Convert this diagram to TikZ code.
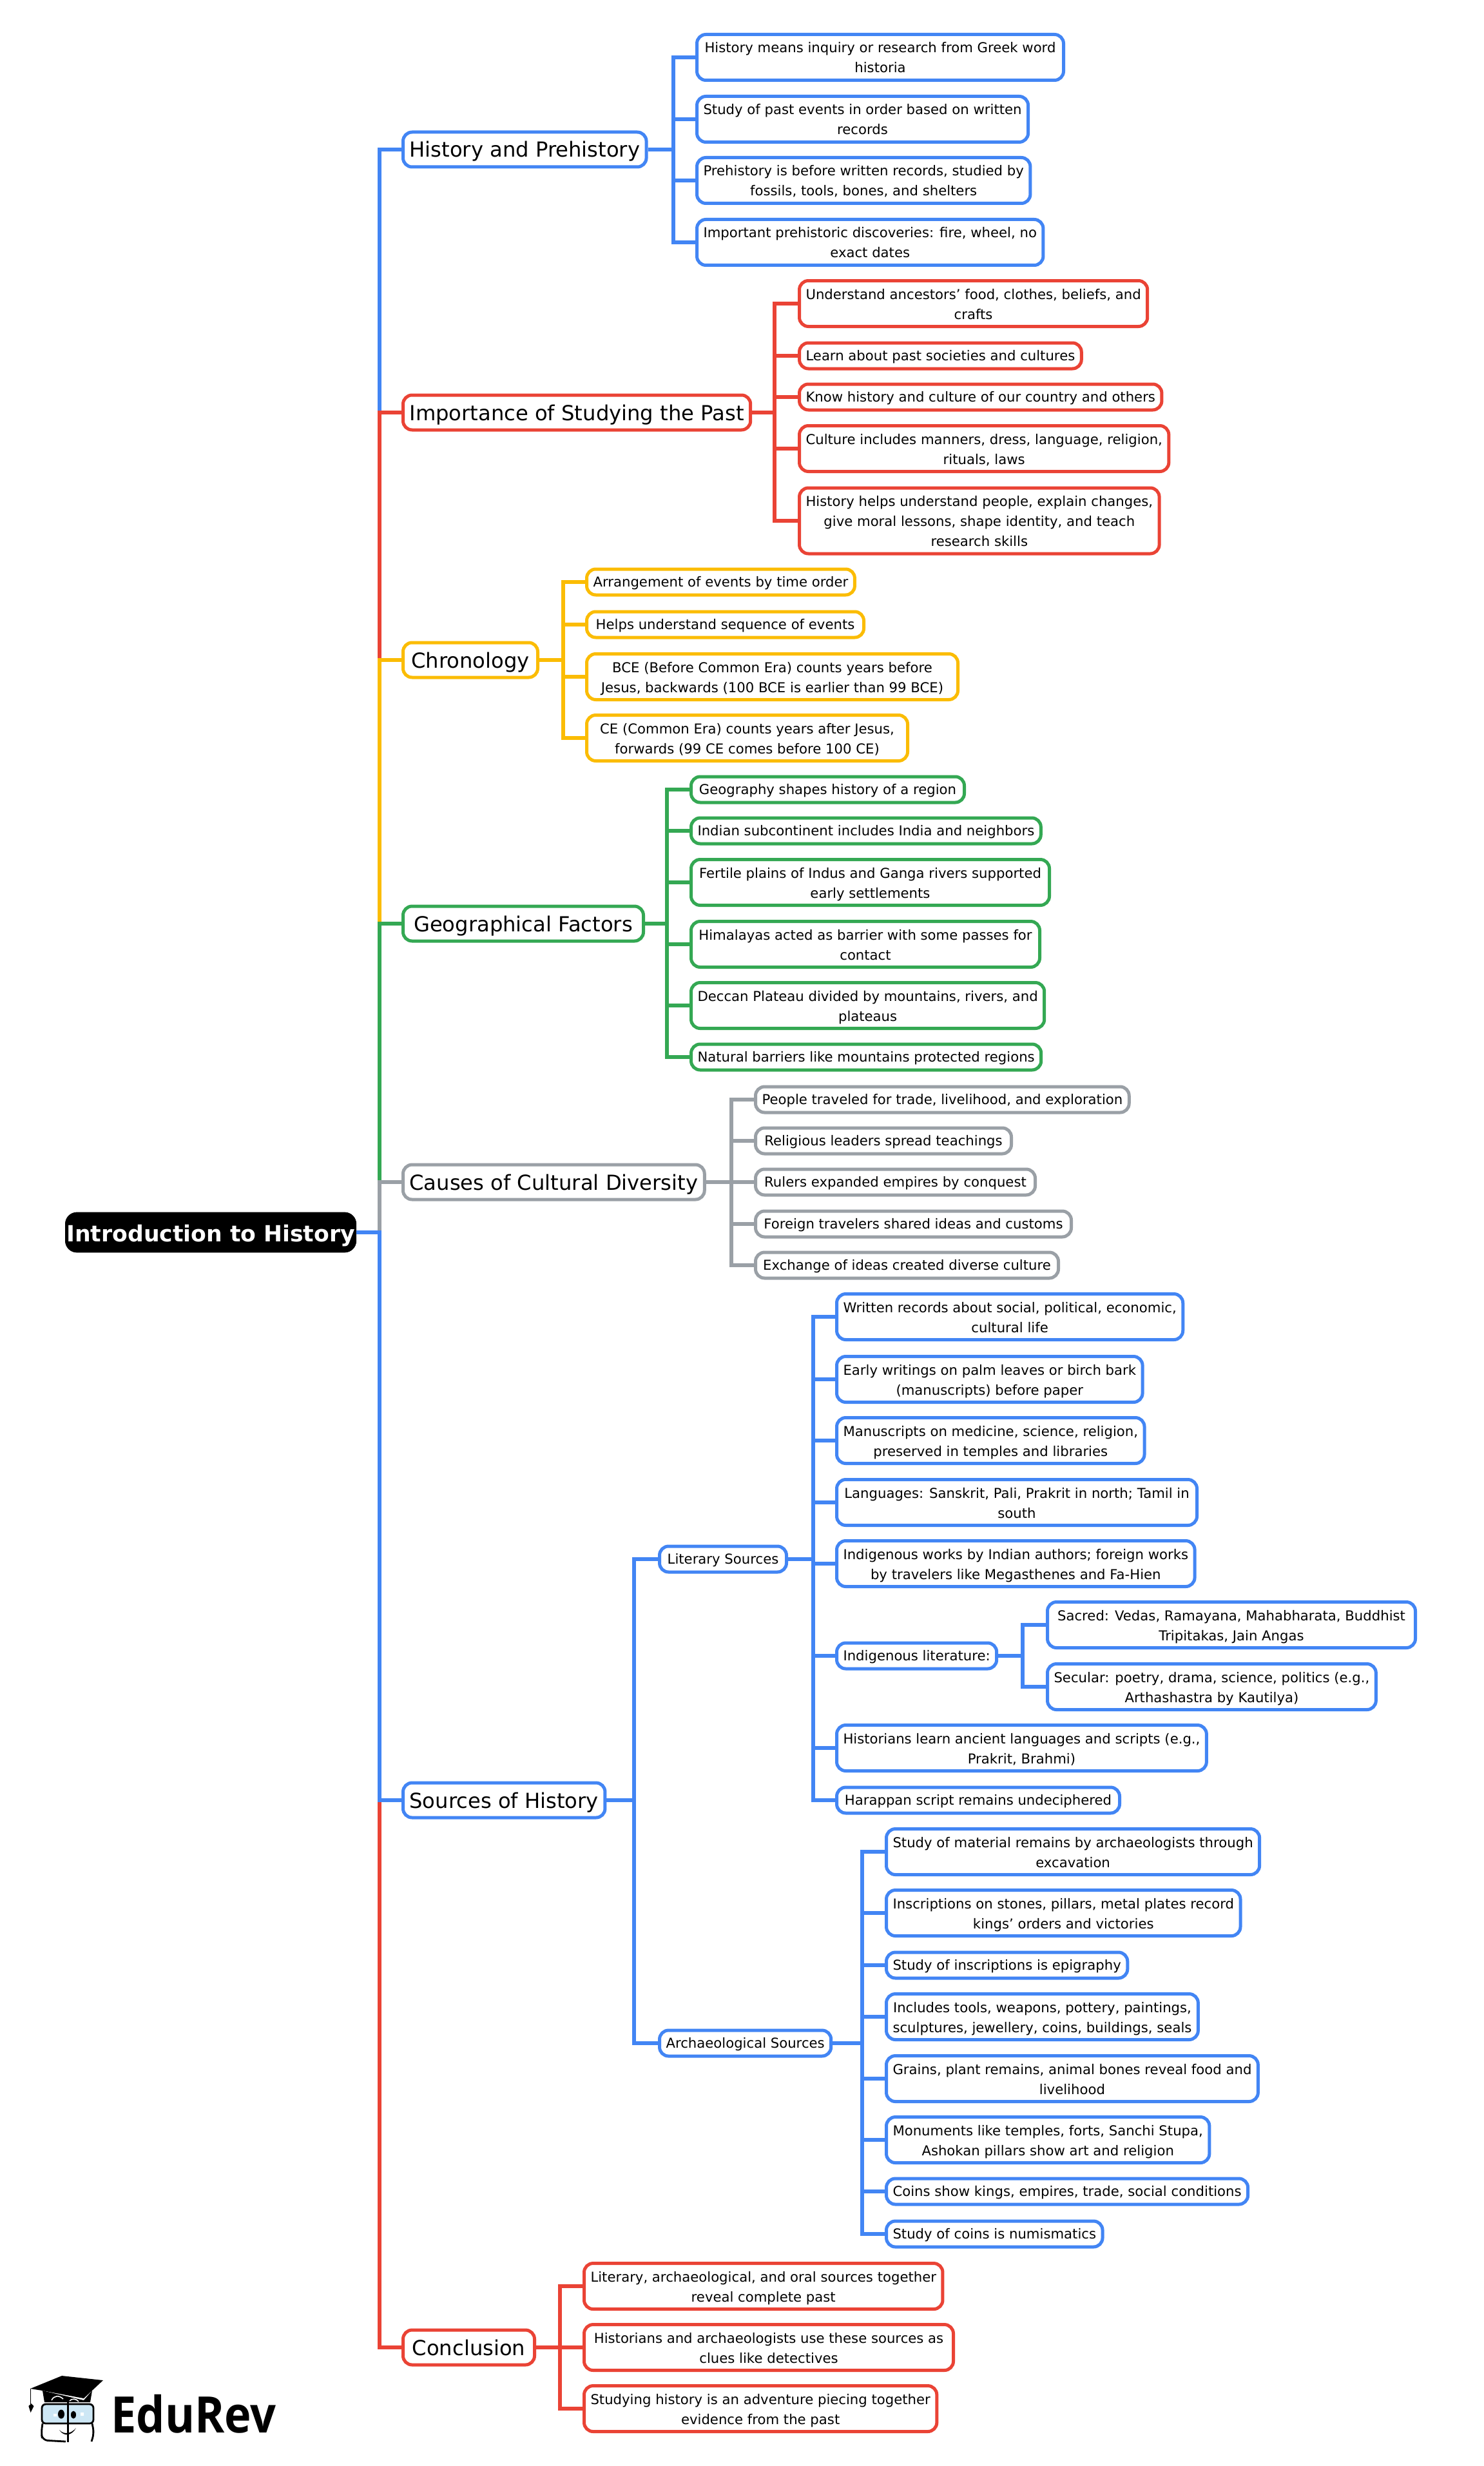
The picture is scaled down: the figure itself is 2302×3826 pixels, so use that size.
\documentclass[tikz,border=0pt]{standalone}
\usepackage{fontspec}
\setmainfont{DejaVu Sans}
\newfontfamily\logofont[FakeStretch=.9]{Open Sans}
\definecolor{gblue}{HTML}{4285F4}
\definecolor{gred}{HTML}{EA4335}
\definecolor{gyellow}{HTML}{FBBC04}
\definecolor{ggreen}{HTML}{34A853}
\definecolor{ggrey}{HTML}{9AA0A6}
\definecolor{glass}{HTML}{CDE7F5}
\tikzset{
  box/.style={draw=#1, fill=white, line width=2.5pt, rounded corners=7pt, anchor=west, align=center,
    inner xsep=5pt, inner ysep=0pt, xshift=-1pt},
  leaf/.style={box=#1, font=\fontsize{10.6}{15.5}\selectfont, minimum height=20pt,
    execute at begin node=\rule{0pt}{11.4pt}, execute at end node=\rule[-3.6pt]{0pt}{3.6pt}},
  two/.style={minimum height=35.5pt, execute at begin node=\rule{0pt}{27.6pt}},
  three/.style={minimum height=51pt, execute at begin node=\rule{0pt}{43.1pt}},
  major/.style={box=#1, font=\fontsize{16.1}{18}\selectfont, minimum height=27pt,
    execute at begin node=\rule{0pt}{16pt}, execute at end node=\rule[-4pt]{0pt}{4pt}},
  link/.style={draw=#1, line width=3pt},
}
\begin{document}
\begin{tikzpicture}[x=.5pt,y=-.5pt]
\useasboundingbox (0,0) rectangle (2302,3826);

% root
\node[draw=black, fill=black, text=white, rounded corners=9pt, anchor=west, inner xsep=1pt, minimum height=31pt,
  font=\fontsize{17.3}{20}\selectfont\bfseries, execute at begin node=\rule{0pt}{18pt}] (root) at (101,1912) {Introduction to History};

% main topics
\node[major=gblue] (history) at (625,232) {History and Prehistory};
\node[major=gred] (importance) at (625,640) {Importance of Studying the Past};
\node[major=gyellow, minimum width=104.5pt] (chronology) at (625,1024) {Chronology};
\node[major=ggreen, minimum width=186.5pt] (geography) at (625,1433) {Geographical Factors};
\node[major=ggrey] (causes) at (625,1834) {Causes of Cultural Diversity};
\node[major=gblue] (sources) at (625,2793) {Sources of History};
\node[major=gred, minimum width=102pt] (conclusion) at (625,3642) {Conclusion};

% history and prehistory
\node[leaf=gblue,two, minimum width=284.5pt] (hist1) at (1081,89) {History means inquiry or research from Greek word\\historia};
\node[leaf=gblue,two] (hist2) at (1081,185) {Study of past events in order based on written\\records};
\node[leaf=gblue,two] (hist3) at (1081,280) {Prehistory is before written records, studied by\\fossils, tools, bones, and shelters};
\node[leaf=gblue,two] (hist4) at (1081,376) {Important prehistoric discoveries: fire, wheel, no\\exact dates};

% importance
\node[leaf=gred,two] (imp1) at (1240,471) {Understand ancestors' food, clothes, beliefs, and\\crafts};
\node[leaf=gred] (imp2) at (1240,552) {Learn about past societies and cultures};
\node[leaf=gred] (imp3) at (1240,616) {Know history and culture of our country and others};
\node[leaf=gred,two] (imp4) at (1240,696) {Culture includes manners, dress, language, religion,\\rituals, laws};
\node[leaf=gred,three] (imp5) at (1240,808) {History helps understand people, explain changes,\\give moral lessons, shape identity, and teach\\research skills};

% chronology
\node[leaf=gyellow] (chr1) at (910,903) {Arrangement of events by time order};
\node[leaf=gyellow, minimum width=215pt] (chr2) at (910,969) {Helps understand sequence of events};
\node[leaf=gyellow,two, minimum width=288pt] (chr3) at (910,1050) {BCE (Before Common Era) counts years before\\Jesus, backwards (100 BCE is earlier than 99 BCE)};
\node[leaf=gyellow,two, minimum width=249pt] (chr4) at (910,1145) {CE (Common Era) counts years after Jesus,\\forwards (99 CE comes before 100 CE)};

% geography
\node[leaf=ggreen, minimum width=212pt] (geo1) at (1072,1225) {Geography shapes history of a region};
\node[leaf=ggreen] (geo2) at (1072,1289) {Indian subcontinent includes India and neighbors};
\node[leaf=ggreen,two, minimum width=278pt] (geo3) at (1072,1369) {Fertile plains of Indus and Ganga rivers supported\\early settlements};
\node[leaf=ggreen,two, minimum width=270.5pt] (geo4) at (1072,1465) {Himalayas acted as barrier with some passes for\\contact};
\node[leaf=ggreen,two] (geo5) at (1072,1560) {Deccan Plateau divided by mountains, rivers, and\\plateaus};
\node[leaf=ggreen] (geo6) at (1072,1640) {Natural barriers like mountains protected regions};

% causes
\node[leaf=ggrey] (cau1) at (1172,1706) {People traveled for trade, livelihood, and exploration};
\node[leaf=ggrey, minimum width=198.5pt] (cau2) at (1172,1770) {Religious leaders spread teachings};
\node[leaf=ggrey, minimum width=217pt] (cau3) at (1172,1834) {Rulers expanded empires by conquest};
\node[leaf=ggrey, minimum width=245pt] (cau4) at (1172,1899) {Foreign travelers shared ideas and customs};
\node[leaf=ggrey, minimum width=235pt] (cau5) at (1172,1963) {Exchange of ideas created diverse culture};

% sources
\node[leaf=gblue, minimum width=98.5pt] (lit) at (1023,2419) {Literary Sources};
\node[leaf=gblue] (arch) at (1023,3170) {Archaeological Sources};

% literary sources
\node[leaf=gblue,two] (lit1) at (1298,2043) {Written records about social, political, economic,\\cultural life};
\node[leaf=gblue,two] (lit2) at (1298,2140) {Early writings on palm leaves or birch bark\\(manuscripts) before paper};
\node[leaf=gblue,two] (lit3) at (1298,2235) {Manuscripts on medicine, science, religion,\\preserved in temples and libraries};
\node[leaf=gblue,two, minimum width=279.5pt] (lit4) at (1298,2331) {Languages: Sanskrit, Pali, Prakrit in north; Tamil in\\south};
\node[leaf=gblue,two] (lit5) at (1298,2426) {Indigenous works by Indian authors; foreign works\\by travelers like Megasthenes and Fa-Hien};
\node[leaf=gblue] (indig) at (1298,2569) {Indigenous literature:};
\node[leaf=gblue,two, minimum width=285.5pt] (sacred) at (1625,2521) {Sacred: Vedas, Ramayana, Mahabharata, Buddhist\\Tripitakas, Jain Angas};
\node[leaf=gblue,two] (secular) at (1625,2617) {Secular: poetry, drama, science, politics (e.g.,\\Arthashastra by Kautilya)};
\node[leaf=gblue,two] (lit6) at (1298,2712) {Historians learn ancient languages and scripts (e.g.,\\Prakrit, Brahmi)};
\node[leaf=gblue, minimum width=219.5pt] (lit7) at (1298,2793) {Harappan script remains undeciphered};

% archaeological sources
\node[leaf=gblue,two] (arc1) at (1375,2873) {Study of material remains by archaeologists through\\excavation};
\node[leaf=gblue,two] (arc2) at (1375,2968) {Inscriptions on stones, pillars, metal plates record\\kings' orders and victories};
\node[leaf=gblue] (arc3) at (1375,3049) {Study of inscriptions is epigraphy};
\node[leaf=gblue,two] (arc4) at (1375,3129) {Includes tools, weapons, pottery, paintings,\\sculptures, jewellery, coins, buildings, seals};
\node[leaf=gblue,two] (arc5) at (1375,3225) {Grains, plant remains, animal bones reveal food and\\livelihood};
\node[leaf=gblue,two] (arc6) at (1375,3320) {Monuments like temples, forts, Sanchi Stupa,\\Ashokan pillars show art and religion};
\node[leaf=gblue] (arc7) at (1375,3400) {Coins show kings, empires, trade, social conditions};
\node[leaf=gblue] (arc8) at (1375,3466) {Study of coins is numismatics};

% conclusion
\node[leaf=gred,two] (con1) at (906,3547) {Literary, archaeological, and oral sources together\\reveal complete past};
\node[leaf=gred,two, minimum width=286.5pt] (con2) at (906,3642) {Historians and archaeologists use these sources as\\clues like detectives};
\node[leaf=gred,two] (con3) at (906,3737) {Studying history is an adventure piecing together\\evidence from the past};

% trunk: later colours lie over earlier ones
\foreach\c/\col in {conclusion/gred,history/gblue,importance/gred,chronology/gyellow,geography/ggreen,causes/ggrey,sources/gblue}
  \draw[link=\col] (root.east) -- ++(36,0) |- (\c.west);

% second level
\foreach\c in {hist1,hist2,hist3,hist4}
  \draw[link=gblue] (history.east) -- (1045,232) |- (\c.west);
\foreach\c in {imp1,imp2,imp3,imp4,imp5}
  \draw[link=gred] (importance.east) -- (1202,640) |- (\c.west);
\foreach\c in {chr1,chr2,chr3,chr4}
  \draw[link=gyellow] (chronology.east) -- (874,1024) |- (\c.west);
\foreach\c in {geo1,geo2,geo3,geo4,geo5,geo6}
  \draw[link=ggreen] (geography.east) -- (1035,1433) |- (\c.west);
\foreach\c in {cau1,cau2,cau3,cau4,cau5}
  \draw[link=ggrey] (causes.east) -- (1135,1834) |- (\c.west);
\foreach\c in {lit,arch}
  \draw[link=gblue] (sources.east) -- (984,2793) |- (\c.west);
\foreach\c in {lit1,lit2,lit3,lit4,lit5,indig,lit6,lit7}
  \draw[link=gblue] (lit.east) -- (1262,2419) |- (\c.west);
\foreach\c in {sacred,secular}
  \draw[link=gblue] (indig.east) -- (1587,2569) |- (\c.west);
\foreach\c in {arc1,arc2,arc3,arc4,arc5,arc6,arc7,arc8}
  \draw[link=gblue] (arch.east) -- (1338,3170) |- (\c.west);
\foreach\c in {con1,con2,con3}
  \draw[link=gred] (conclusion.east) -- (869,3642) |- (\c.west);

% logo
\fill (47,3706) -- (96,3686) -- (160,3693) -- (130,3721) -- (66,3709) -- cycle;
\fill (66,3709) -- (130,3724) -- (143,3709) -- (140,3727) -- (69,3727) -- cycle;
\draw[white, line width=.8pt] (80,3724) .. controls (84,3716) and (92,3716) .. (98,3722);
\draw[white, line width=.8pt] (108,3725) .. controls (111,3721) and (118,3721) .. (122,3726);
\draw[line width=.8pt] (47.4,3706) -- (47.4,3730);
\fill (48.5,3729) -- (52.5,3733) -- (47.5,3743) -- (44.4,3733) -- cycle;
\draw[line width=1.4pt, rounded corners=3pt, fill=glass] (65,3730) rectangle (145,3760);
\draw[line width=1.4pt, rounded corners=4pt] (66,3760) -- (64,3775) -- (66,3786) -- (102,3788);
\draw[line width=1.4pt, rounded corners=4pt] (143,3760) -- (146,3775) -- (142,3788);
\draw[line width=1.6pt] (105.6,3727) -- (105.6,3789);
\fill (95,3745.5) ellipse (5 and 7);
\fill (114,3746.5) ellipse (4 and 6);
\fill[white] (83,3745) rectangle (88,3749) (125,3743) rectangle (130,3748);
\fill (92,3770) .. controls (100,3778) and (110,3776) .. (118,3767) .. controls (112,3778) and (100,3782) .. cycle;
\node[anchor=base west, inner sep=0pt, font=\fontsize{39}{39}\logofont\bfseries] (logo) at (172,3774) {EduRev};
\end{tikzpicture}
\end{document}
